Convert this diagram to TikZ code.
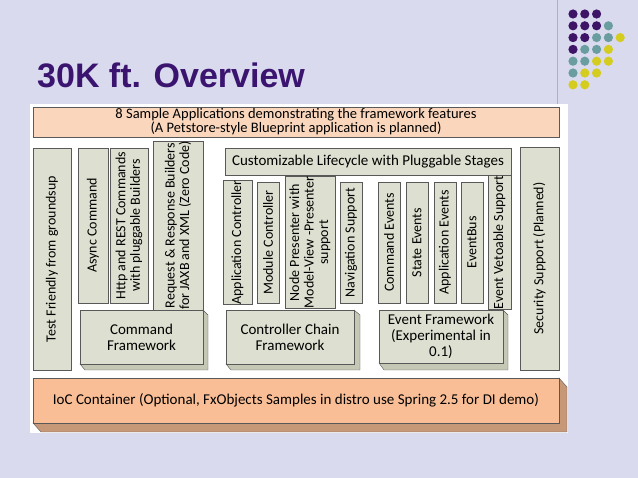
\documentclass[tikz,border=0pt]{standalone}
\usepackage{fontspec}
\setmainfont{Carlito}
\newfontfamily\titlefont{Liberation Sans}
\definecolor{slidebg}{HTML}{D9DAEE}
\definecolor{titleclr}{HTML}{3B1470}
\definecolor{peach}{HTML}{FAD6BC}
\definecolor{ioc}{HTML}{F9BE96}
\definecolor{sage}{HTML}{DDE0D0}
\definecolor{sagedark}{HTML}{C4C8B4}
\definecolor{dotP}{HTML}{3D1466}
\definecolor{dotT}{HTML}{6A9DA0}
\definecolor{dotY}{HTML}{D4CC1E}
\tikzset{
	box/.style={draw=gray!70!black,fill=sage,align=center,inner sep=0pt,font=\fontsize{14}{14.5}\selectfont},
	vbox/.style={box,rotate=90},
	depth/.style={draw=gray!70!black,fill=sagedark}
}
\begin{document}
\begin{tikzpicture}[x=1pt,y=-1pt]
	%background
	\fill[slidebg] (0,0) rectangle (638,478);
	\useasboundingbox (0,0) rectangle (638,478);
	\draw[gray!60,thin] (557,0)--(557,105);
	\fill[white] (30,104) rectangle (568,433);
	
	%dots
	\foreach \x/\y/\k in {0/0/P,1/0/P,2/0/P,
		0/1/P,1/1/P,2/1/P,3/1/T,
		0/2/P,1/2/P,2/2/T,3/2/T,4/2/Y,
		0/3/P,1/3/T,2/3/T,3/3/Y,
		0/4/T,1/4/T,2/4/Y,3/4/Y,
		0/5/T,1/5/Y,2/5/Y,
		0/6/Y,1/6/Y}
		\fill[dot\k] (573+11.8*\x,14+11.8*\y) circle (4.6);
	
	%title
	\node[anchor=base west,inner sep=0,text=titleclr,font=\titlefont\bfseries\fontsize{34}{36}\selectfont] (title) at (37,88) {30K ft. Overview};
	
	%top and bottom bands
	\node[box,fill=peach,minimum width=526,minimum height=30,font=\fontsize{14.5}{14}\selectfont] (apps) at (296,122)
		{8 Sample Applications demonstrating the framework features\\(A Petstore-style Blueprint application is planned)};
	\fill[ioc!80!black,draw=gray!70!black] (33,423)--(41,432)--(567,432)--(567,387)--(559,378)--(559,423)--cycle;
	\node[box,fill=ioc,minimum width=526,minimum height=45,font=\fontsize{15}{16}\selectfont] (ioc) at (296,400.5)
		{IoC Container (Optional, FxObjects Samples in distro use Spring 2.5 for DI demo)};
	
	%side columns
	\node[vbox,minimum width=222,minimum height=38] (test) at (52,259) {Test Friendly from groundsup};
	\node[vbox,minimum width=223,minimum height=39] (security) at (539.5,258.5) {Security Support (Planned)};
	
	%command columns
	\node[vbox,minimum width=155,minimum height=30] (async) at (93,225.5) {Async Command};
	\node[vbox,minimum width=155,minimum height=38] (http) at (129,225.5) {Http and REST Commands\\with pluggable Builders};
	\node[vbox,minimum width=155,minimum height=50] (request) at (178,225.5) {Request \& Response Builders\\for JAXB and XML (Zero Code)};
	
	%lifecycle
	\node[box,minimum width=286,minimum height=27,font=\fontsize{15}{16}\selectfont] (lifecycle) at (368,161.5) {Customizable Lifecycle with Pluggable Stages};
	\node[vbox,minimum width=121,minimum height=29] (appctrl) at (237.5,242.5) {Application Controller};
	\node[vbox,minimum width=121,minimum height=22] (modctrl) at (268,242.5) {Module Controller};
	\node[vbox,minimum width=121,minimum height=50] (presenter) at (310,242.5) {Node Presenter with\\Model-View -Presenter\\support};
	\node[vbox,minimum width=121,minimum height=22] (nav) at (351,242.5) {Navigation Support};
	\node[vbox,minimum width=121,minimum height=22] (cmdev) at (389,242.5) {Command Events};
	\node[vbox,minimum width=121,minimum height=22] (stateev) at (417,242.5) {State Events};
	\node[vbox,minimum width=121,minimum height=22] (appev) at (445,242.5) {Application Events};
	\node[vbox,minimum width=121,minimum height=22] (bus) at (472,242.5) {EventBus};
	\node[vbox,minimum width=121,minimum height=23] (veto) at (499.5,242.5) {Event Vetoable Support};
	
	%frameworks (3d boxes)
	\draw[depth] (80,364)--(85,370)--(208,370)--(208,315)--(203,310)--(203,364)--cycle;
	\node[box,minimum width=123,minimum height=54,font=\fontsize{15}{16}\selectfont] (cmdfw) at (141.5,337) {Command\\Framework};
	\draw[depth] (226,364)--(231,370)--(360,370)--(360,315)--(354,310)--(354,364)--cycle;
	\node[box,minimum width=128,minimum height=54,font=\fontsize{15}{16}\selectfont] (chainfw) at (290,337) {Controller Chain\\Framework};
	\draw[depth] (379,363)--(384,370)--(508,370)--(508,315)--(503,310)--(503,363)--cycle;
	\node[box,minimum width=124,minimum height=53,font=\fontsize{15}{16}\selectfont] (eventfw) at (441,336.5) {Event Framework\\(Experimental in\\0.1)};
\end{tikzpicture}
\end{document}
